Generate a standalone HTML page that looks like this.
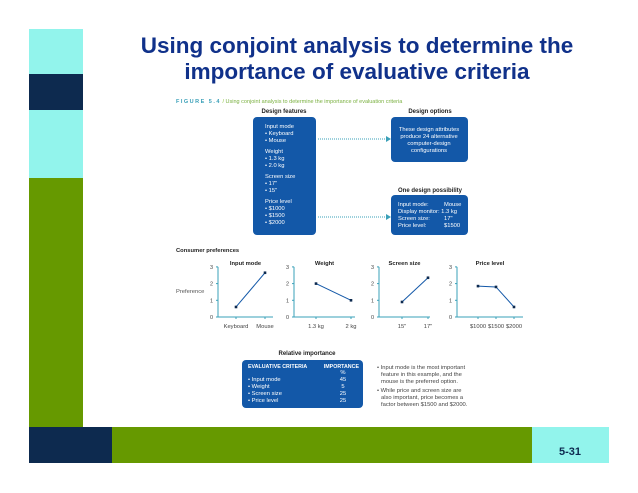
<!DOCTYPE html>
<html><head><meta charset="utf-8"><style>
body{margin:0;width:638px;height:493px;background:#fff;overflow:hidden;font-family:"Liberation Sans",sans-serif}
svg{display:block}
</style></head><body>
<svg width="638" height="493" viewBox="0 0 638 493">
<g>
<rect x="29" y="29" width="54" height="45" fill="#92f4ec"/>
<rect x="29" y="74" width="54" height="36" fill="#0d2a4f"/>
<rect x="29" y="110" width="54" height="68" fill="#92f4ec"/>
<rect x="29" y="178" width="54" height="249" fill="#669900"/>
<rect x="29" y="427" width="83" height="36" fill="#0d2a4f"/>
<rect x="112" y="427" width="420" height="36" fill="#669900"/>
<rect x="532" y="427" width="77" height="36" fill="#92f4ec"/>
<text x="570" y="455" text-anchor="middle" font-size="11" font-weight="bold" fill="#0d2a4f">5-31</text>
</g>
<g font-weight="bold" font-size="22.5" fill="#10318a" text-anchor="middle">
<text x="357" y="53">Using conjoint analysis to determine the</text>
<text x="357" y="79">importance of evaluative criteria</text>
</g>
<text x="176" y="103" font-size="5.5" fill="#3aa0b8"><tspan font-weight="bold" letter-spacing="1.5">FIGURE 5.4</tspan><tspan fill="#8cc63f"> / </tspan><tspan fill="#7ab040">Using conjoint analysis to determine the importance of evaluation criteria</tspan></text>
<g font-size="6">
<text x="284" y="113" text-anchor="middle" font-weight="bold" fill="#222">Design features</text>
<text x="430" y="113" text-anchor="middle" font-weight="bold" fill="#222">Design options</text>
<text x="430" y="192" text-anchor="middle" font-weight="bold" fill="#222">One design possibility</text>
<rect x="253" y="117" width="63" height="118" rx="4" fill="#1358a8"/>
<g fill="#fff" font-size="5.8">
<text x="265" y="128">Input mode</text><text x="265" y="135">• Keyboard</text><text x="265" y="142">• Mouse</text>
<text x="265" y="153">Weight</text><text x="265" y="160">• 1.3 kg</text><text x="265" y="167">• 2.0 kg</text>
<text x="265" y="178">Screen size</text><text x="265" y="185">• 17"</text><text x="265" y="192">• 15"</text>
<text x="265" y="203">Price level</text><text x="265" y="210">• $1000</text><text x="265" y="217">• $1500</text><text x="265" y="224">• $2000</text>
</g>
<rect x="391" y="117" width="77" height="45" rx="4" fill="#1358a8"/>
<g fill="#fff" font-size="5.8" text-anchor="middle">
<text x="429" y="131">These design attributes</text><text x="429" y="138">produce 24 alternative</text><text x="429" y="145">computer-design</text><text x="429" y="152">configurations</text>
</g>
<rect x="391" y="195" width="77" height="40" rx="4" fill="#1358a8"/>
<g fill="#fff" font-size="5.8">
<text x="398" y="206">Input mode:</text><text x="444" y="206">Mouse</text>
<text x="398" y="213">Display monitor: 1.3 kg</text>
<text x="398" y="220">Screen size:</text><text x="444" y="220">17"</text>
<text x="398" y="227">Price level:</text><text x="444" y="227">$1500</text>
</g>
<line x1="318" y1="139" x2="386" y2="139" stroke="#3aa0b8" stroke-dasharray="1,1"/>
<polygon points="386,136 391,139 386,142" fill="#3aa0b8"/>
<line x1="318" y1="217" x2="386" y2="217" stroke="#3aa0b8" stroke-dasharray="1,1"/>
<polygon points="386,214 391,217 386,220" fill="#3aa0b8"/>
</g>
<text x="176" y="252" font-size="5.8" font-weight="bold" fill="#222">Consumer preferences</text>
<text x="176" y="293" font-size="5.8" fill="#555">Preference</text>
<g id="charts"></g>
<g font-size="6">
<text x="307" y="355" text-anchor="middle" font-weight="bold" fill="#222">Relative importance</text>
<rect x="242" y="360" width="121" height="48" rx="4" fill="#1358a8"/>
<g fill="#fff" font-size="5.8">
<text x="248" y="368" font-weight="bold" font-size="5.3">EVALUATIVE CRITERIA</text>
<text x="359" y="368" font-weight="bold" font-size="5.3" text-anchor="end">IMPORTANCE</text>
<text x="343" y="374" text-anchor="middle">%</text>
<text x="248" y="381">• Input mode</text><text x="343" y="381" text-anchor="middle">45</text>
<text x="248" y="388">• Weight</text><text x="343" y="388" text-anchor="middle">5</text>
<text x="248" y="395">• Screen size</text><text x="343" y="395" text-anchor="middle">25</text>
<text x="248" y="402">• Price level</text><text x="343" y="402" text-anchor="middle">25</text>
</g>
<g fill="#444" font-size="5.8">
<text x="377" y="369">• Input mode is the most important</text>
<text x="381" y="376">feature in this example, and the</text>
<text x="381" y="383">mouse is the preferred option.</text>
<text x="377" y="392">• While price and screen size are</text>
<text x="381" y="399">also important, price becomes a</text>
<text x="381" y="406">factor between $1500 and $2000.</text>
</g>
</g>
</svg>
<script>
const chartTitles=["Input mode","Weight","Screen size","Price level"];
const inputCats=["Keyboard","Mouse"];
const inputVals=[0.6,2.65];
const weightCats=["1.3 kg","2 kg"];
const weightVals=[2.0,1.0];
const screenCats=["15\"","17\""];
const screenVals=[0.9,2.35];
const priceCats=["$1000","$1500","$2000"];
const priceVals=[1.85,1.8,0.6];
const yTicks=[0,1,2,3];
const NS="http://www.w3.org/2000/svg";
const g=document.getElementById('charts');
const layout=[{ax:218,end:273,px:[236,265]},{ax:294,end:355,px:[316,351]},{ax:379,end:430,px:[402,428]},{ax:457,end:523,px:[478,497,514]}];
const cats=[inputCats,weightCats,screenCats,priceCats];
const vals=[inputVals,weightVals,screenVals,priceVals];
const y0=317,unit=16.7;
function yS(v){return y0-v*unit;}
function mk(t,a,parent){const e=document.createElementNS(NS,t);for(const k in a)e.setAttribute(k,a[k]);(parent||g).appendChild(e);return e;}
layout.forEach((L,i)=>{
 const c=mk('g',{});
 
 
 const t=mk('text',{x:(L.ax+L.end)/2,y:265,'text-anchor':'middle','font-size':'5.8','font-weight':'bold',fill:'#222'},c);t.textContent=chartTitles[i];
 mk('line',{x1:L.ax,y1:yS(3),x2:L.ax,y2:y0,stroke:'#3aa0b8','stroke-width':1},c);
 mk('line',{x1:L.ax,y1:y0,x2:L.end,y2:y0,stroke:'#3aa0b8','stroke-width':1},c);
 yTicks.forEach(v=>{mk('line',{x1:L.ax-2,y1:yS(v),x2:L.ax,y2:yS(v),stroke:'#3aa0b8'},c);
  const tt=mk('text',{x:L.ax-5,y:yS(v)+2,'text-anchor':'end','font-size':'5.5',fill:'#444'},c);tt.textContent=v;});
 const n=cats[i].length;
 const xs=cats[i].map((_,j)=>L.px[0]+(L.px[n-1]-L.px[0])*(n>1?j/(n-1):0));
 const pts=vals[i].map((v,j)=>xs[j]+','+yS(v)).join(' ');
 const pl=mk('polyline',{points:pts,fill:'none',stroke:'#1358a8','stroke-width':1},c);
 
 
 vals[i].forEach((v,j)=>{
  const p=mk('rect',{x:xs[j]-1.3,y:yS(v)-1.3,width:2.6,height:2.6,fill:'#0d2a4f'},c);
  
  
  mk('line',{x1:xs[j],y1:y0,x2:xs[j],y2:y0+2,stroke:'#3aa0b8'},c);
  const lb=mk('text',{x:xs[j],y:328,'text-anchor':'middle','font-size':'5.8',fill:'#444'},c);lb.textContent=cats[i][j];
 });
});
</script>
</body></html>
